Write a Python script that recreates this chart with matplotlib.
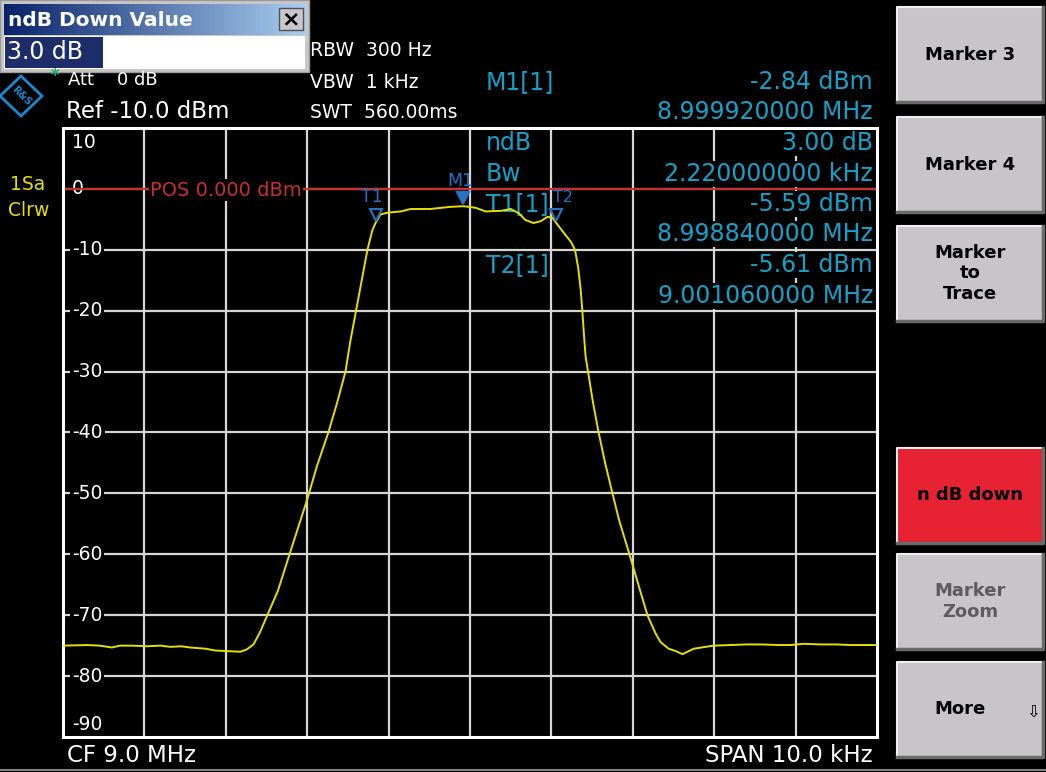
import matplotlib.pyplot as plt
from matplotlib.patches import Rectangle, Polygon
from matplotlib.transforms import Affine2D

W, H = 1046, 772

# analyzer settings
center_mhz = 9.0
span_khz = 10.0
ref_level = -10.0
display_line = 0.0
ndb_value = 3.0

# trace 1 (offset from CF in kHz, level in dBm)
freq_khz = [-5.00, -4.70, -4.55, -4.40, -4.30, -4.15, -3.97, -3.80, -3.68, -3.55,
            -3.44, -3.25, -3.13, -2.98, -2.82, -2.74, -2.66, -2.58, -2.49, -2.36,
            -2.21, -2.00, -1.88, -1.74, -1.63, -1.53, -1.47, -1.40, -1.33, -1.26,
            -1.20, -1.16, -1.10, -1.01, -0.85, -0.73, -0.49, -0.24, -0.08, 0.07,
            0.19, 0.38, 0.50, 0.60, 0.68, 0.78, 0.87, 0.95, 1.01, 1.06,
            1.14, 1.24, 1.29, 1.33, 1.36, 1.38, 1.40, 1.42, 1.45, 1.51,
            1.58, 1.66, 1.75, 1.83, 1.97, 2.08, 2.18, 2.28, 2.34, 2.44,
            2.53, 2.61, 2.75, 2.99, 3.20, 3.40, 3.57, 3.80, 3.94, 4.10,
            4.31, 4.50, 4.68, 4.85, 5.00]
level_dbm = [-75.0, -74.9, -75.0, -75.3, -75.0, -75.0, -75.1, -75.0, -75.2, -75.1,
             -75.3, -75.5, -75.8, -75.9, -76.0, -75.6, -74.8, -72.8, -70.0, -66.0,
             -59.7, -51.0, -45.5, -40.0, -35.0, -30.0, -25.0, -20.0, -15.0, -10.0,
             -6.8, -5.59, -4.2, -3.9, -3.7, -3.3, -3.3, -2.95, -2.84, -3.1,
             -3.7, -3.6, -3.3, -4.0, -5.1, -5.6, -5.3, -4.6, -4.7, -5.61,
             -7.0, -8.7, -10.0, -13.0, -16.6, -20.0, -24.0, -27.5, -30.0, -35.0,
             -40.0, -45.0, -50.0, -54.3, -60.5, -65.5, -70.0, -73.0, -74.4, -75.5,
             -75.9, -76.4, -75.5, -75.0, -74.9, -74.8, -74.8, -74.9, -74.9, -74.7,
             -74.8, -74.8, -74.9, -74.9, -74.9]

# markers
marker_names = ["M1", "T1", "T2"]
marker_freq_mhz = [8.999920, 8.998840, 9.001060]
marker_level = [-2.84, -5.59, -5.61]
marker_filled = [True, False, False]

y_ticks = [10, 0, -10, -20, -30, -40, -50, -60, -70, -80, -90]

softkeys = ["Marker 3", "Marker 4", "Marker\nto\nTrace", "n dB down", "Marker\nZoom", "More"]
softkey_top = [7, 117, 226, 448, 554, 662]
softkey_state = ["normal", "normal", "normal", "active", "disabled", "normal"]

CYAN = "#16a2c8"
MBLUE = "#2872c0"
YELLOW = "#e6e000"
GRID = "#d6d6d6"
RED = "#c83030"

fig = plt.figure(figsize=(W / 100, H / 100), dpi=100, facecolor="black")
pix = Affine2D().scale(1 / W, -1 / H).translate(0, 1) + fig.transFigure

# plot area
x0, x1, y0, y1 = 63, 877, 128, 737
ax = fig.add_axes([x0 / W, 1 - y1 / H, (x1 - x0) / W, (y1 - y0) / H])
ax.set_facecolor("black")
ax.set_xlim(-span_khz / 2, span_khz / 2)
ax.set_ylim(-90, 10)
ax.set_xticks([])
ax.set_yticks([])
for s in ax.spines.values():
    s.set_color("white")
    s.set_linewidth(2.2)

for k in range(1, 10):
    ax.axvline(-span_khz / 2 + k * span_khz / 10, color=GRID, lw=1.6, zorder=1)
for v in y_ticks[1:-1]:
    ax.axhline(v, color=GRID, lw=1.6, zorder=1)

# level labels inside the grid
for v in y_ticks:
    ypx = 189 + (0 - v) * 6.09
    if v == 10:
        ypx = 143
    if v == -90:
        ypx = 725
    ax.text(72, ypx, str(v), transform=pix, color="white", fontsize=13.5,
            ha="left", va="center", zorder=2,
            bbox=dict(facecolor="black", edgecolor="none", pad=1.5))

# display line
ax.axhline(display_line, color=RED, lw=1.5, zorder=2.5)
ax.text(150, 190, "POS %.3f dBm" % display_line, transform=pix, color=RED,
        fontsize=14, ha="left", va="center", zorder=2.6,
        bbox=dict(facecolor="black", edgecolor="none", pad=1))

# trace
ax.plot(freq_khz, level_dbm, color=YELLOW, lw=1.4, zorder=4)

# marker symbols
for name, f, lvl, filled in zip(marker_names, marker_freq_mhz, marker_level, marker_filled):
    fx = (f - center_mhz) * 1000
    ax.plot([fx], [lvl + 1.3], marker="v", ms=9 if filled else 8,
            mfc=MBLUE if filled else "none", mec=MBLUE, mew=1.5, zorder=5)
    if name == "T2":
        ax.text(fx - 0.04, lvl + 4.2, name, color=MBLUE, fontsize=11.5,
                ha="left", va="center", zorder=5)
    else:
        ax.text(fx - 0.04, lvl + 4.2, name, color=MBLUE, fontsize=12.5,
                ha="center", va="center", zorder=5)

# marker readout
bw_khz = (marker_freq_mhz[2] - marker_freq_mhz[1]) * 1000
rows = [
    ("M1[1]", "%.2f dBm" % marker_level[0], 82),
    ("", "%.9f MHz" % marker_freq_mhz[0], 112),
    ("ndB", "%.2f dB" % ndb_value, 143),
    ("Bw", "%.9f kHz" % bw_khz, 174),
    ("T1[1]", "%.2f dBm" % marker_level[1], 204),
    ("", "%.9f MHz" % marker_freq_mhz[1], 234),
    ("T2[1]", "%.2f dBm" % marker_level[2], 265),
    ("", "%.9f MHz" % marker_freq_mhz[2], 296),
]
box = dict(facecolor="black", edgecolor="none", pad=0.5)
for left, right, ypx in rows:
    if left:
        ax.text(486, ypx, left, transform=pix, color=CYAN, fontsize=17,
                ha="left", va="center", zorder=3, bbox=box)
    ax.text(873, ypx, right, transform=pix, color=CYAN, fontsize=17,
            ha="right", va="center", zorder=3, bbox=box)

# header settings
fig.text(310, 51, "RBW  300 Hz", transform=pix, color="white", fontsize=13.5, va="center")
fig.text(310, 82, "VBW  1 kHz", transform=pix, color="white", fontsize=13.5, va="center")
fig.text(310, 112, "SWT  560.00ms", transform=pix, color="white", fontsize=13.5, va="center")
fig.text(68, 80, "Att    0 dB", transform=pix, color="white", fontsize=13, va="center")
fig.text(66, 112, "Ref %.1f dBm" % ref_level, transform=pix, color="white", fontsize=16.5, va="center")
fig.text(55, 76, "*", transform=pix, color="#20b060", fontsize=12, ha="center", va="center",
         weight="bold")
fig.text(10, 185, "1Sa", transform=pix, color=YELLOW, fontsize=13.5, va="center")
fig.text(8, 210, "Clrw", transform=pix, color=YELLOW, fontsize=13.5, va="center")

# R&S logo
fig.add_artist(Polygon([[21, 76], [42, 96], [21, 116], [0, 96]], closed=True,
                       transform=pix, facecolor="none", edgecolor="#1a8ad0", lw=2))
fig.text(21, 96, "R&S", transform=pix, color="#1a8ad0", fontsize=7, weight="bold",
         ha="center", va="center", rotation=-45)

# bottom labels
fig.text(67, 756, "CF %.1f MHz" % center_mhz, transform=pix, color="white", fontsize=16.5,
         va="center")
fig.text(873, 756, "SPAN %.1f kHz" % span_khz, transform=pix, color="white", fontsize=16.5,
         ha="right", va="center")
fig.add_artist(plt.Line2D([0, W], [770, 770], transform=pix, color="#808080", lw=1.5))

# ndB dialog
fig.add_artist(Rectangle((0, 0), 309, 72, transform=pix, facecolor="#c8c6c8",
                         edgecolor="#9a9a9a", lw=1))
n = 60
for i in range(n):
    t = i / (n - 1)
    c = (0.04 + t * (0.65 - 0.04), 0.14 + t * (0.80 - 0.14), 0.42 + t * (0.94 - 0.42))
    fig.add_artist(Rectangle((4 + i * 301 / n, 4), 301 / n + 0.6, 31, transform=pix,
                             facecolor=c, edgecolor="none"))
fig.text(8, 20, "ndB Down Value", transform=pix, color="white", fontsize=14.5,
         weight="bold", va="center")
fig.add_artist(Rectangle((279, 8), 24, 22, transform=pix, facecolor="#c8c6c8",
                         edgecolor="#505050", lw=1))
fig.text(291, 19, "\u00d7", transform=pix, color="black", fontsize=16, weight="bold",
         ha="center", va="center")
fig.add_artist(Rectangle((4, 36), 301, 33, transform=pix, facecolor="white", edgecolor="none"))
fig.add_artist(Rectangle((5, 37), 98, 31, transform=pix, facecolor="#1e2c6a", edgecolor="none"))
fig.text(7, 52, "%.1f dB" % ndb_value, transform=pix, color="white", fontsize=17, va="center")

# softkeys
bx0, bx1 = 897, 1043
for label, top, state in zip(softkeys, softkey_top, softkey_state):
    bot = top + 95
    face = "#e62233" if state == "active" else "#c8c5c9"
    tcol = "#5c5c5c" if state == "disabled" else "black"
    fig.add_artist(Rectangle((bx0, top), bx1 - bx0, bot - top, transform=pix,
                             facecolor=face, edgecolor="none"))
    fig.add_artist(plt.Line2D([bx0, bx0, bx1], [bot, top, top], transform=pix,
                              color="#f0f0f0", lw=1.5))
    fig.add_artist(plt.Line2D([bx0, bx1, bx1], [bot, bot, top], transform=pix,
                              color="#6a6a6a", lw=2.5))
    cx = (bx0 + bx1) / 2
    if label == "More":
        cx -= 10
        fig.text(1033, (top + bot) / 2 + 2, "\u21e9", transform=pix, color="black",
                 fontsize=12, ha="center", va="center")
    fig.text(cx, (top + bot) / 2, label, transform=pix, color=tcol, fontsize=13,
             weight="bold", ha="center", va="center", linespacing=1.2)

fig.savefig("out.png", dpi=100, facecolor="black")
